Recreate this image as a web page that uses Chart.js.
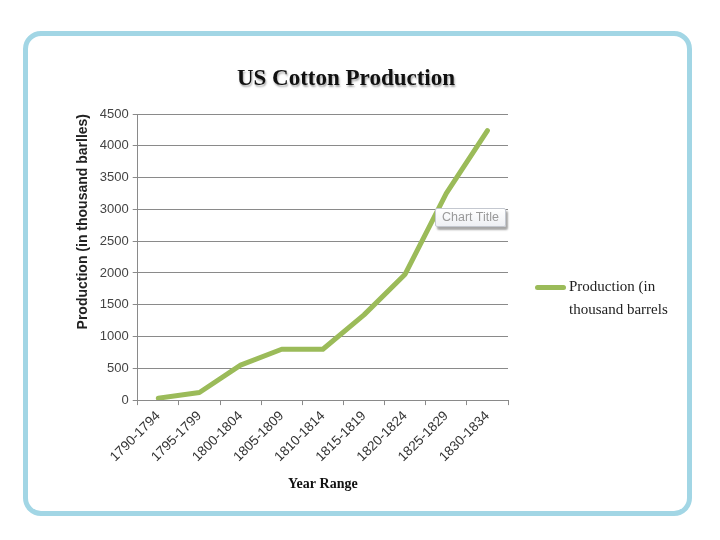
<!DOCTYPE html>
<html lang="en">
<head>
<meta charset="UTF-8">
<title>US Cotton Production</title>
<script src="https://cdn.jsdelivr.net/npm/chart.js@4.4.1/dist/chart.umd.min.js"></script>
<style>
    html, body {
        margin: 0;
        padding: 0;
        background: #fff;
    }
    #wrap {
        position: relative;
        width: 720px;
        height: 540px;
        overflow: hidden;
    }
    #frame {
        position: absolute;
        left: 23px;
        top: 31px;
        width: 659px;
        height: 475px;
        border: 5px solid #a2d6e5;
        border-radius: 18px;
    }
    #chart {
        position: absolute;
        left: 0;
        top: 0;
    }
    #title {
        position: absolute;
        left: 146px;
        width: 400px;
        top: 65px;
        text-align: center;
        font-family: "Liberation Serif", serif;
        font-weight: bold;
        font-size: 23px;
        color: #111;
        text-shadow: 1px 2px 2px rgba(0,0,0,0.35);
    }
    #legend {
        position: absolute;
        left: 535px;
        top: 275px;
        display: flex;
        align-items: flex-start;
    }
    #legend .swatch {
        width: 31px;
        height: 5px;
        border-radius: 3px;
        margin-top: 10px;
        margin-right: 3px;
    }
    #legend .text {
        width: 120px;
        font-family: "Liberation Serif", serif;
        font-size: 15px;
        line-height: 23px;
        color: #222;
    }
    #tag {
        position: absolute;
        left: 435px;
        top: 208px;
        padding: 1px 6px 2px 6px;
        font-family: "Liberation Sans", sans-serif;
        font-size: 12.5px;
        color: #9a9a9a;
        background: linear-gradient(#ffffff, #eef0f4);
        border: 1px solid #c4c8d0;
        border-radius: 2px;
        box-shadow: 2px 3px 2px rgba(0,0,0,0.35);
    }
</style>
</head>
<body>
<div id="wrap">
    <div id="frame"></div>
    <canvas id="chart" width="720" height="540"></canvas>
    <div id="title"></div>
    <div id="legend"><div class="swatch"></div><div class="text"></div></div>
    <div id="tag">Chart Title</div>
</div>

<script>
    const chartTitle = 'US Cotton Production';
    const yearRanges = ['1790-1794', '1795-1799', '1800-1804', '1805-1809', '1810-1814',
                        '1815-1819', '1820-1824', '1825-1829', '1830-1834'];
    const production = [30, 120, 550, 800, 800, 1340, 1980, 3250, 4240];
    const seriesLabel = 'Production (in thousand barrels';
    const xTitle = 'Year Range';
    const yTitle = 'Production (in thousand barlles)';
    const lineColor = '#9bbb59';

    document.getElementById('title').textContent = chartTitle;
    document.querySelector('#legend .swatch').style.background = lineColor;
    document.querySelector('#legend .text').textContent = seriesLabel;

    const gridColor = '#8a8a8a';

    const ctx = document.getElementById('chart').getContext('2d');
    new Chart(ctx, {
        type: 'line',
        data: {
            labels: yearRanges,
            datasets: [{
                label: seriesLabel,
                data: production,
                borderColor: lineColor,
                borderWidth: 5,
                borderCapStyle: 'round',
                borderJoinStyle: 'round',
                pointRadius: 0,
                tension: 0
            }]
        },
        options: {
            responsive: false,
            animation: false,
            layout: {
                padding: { top: 114, left: 71, right: 212, bottom: 43 }
            },
            plugins: {
                legend: { display: false },
                tooltip: { enabled: false }
            },
            scales: {
                x: {
                    offset: true,
                    grid: {
                        offset: true,
                        drawOnChartArea: false,
                        drawTicks: true,
                        tickLength: 5,
                        color: gridColor
                    },
                    border: { color: gridColor },
                    ticks: {
                        autoSkip: false,
                        maxRotation: 45,
                        minRotation: 45,
                        padding: 3,
                        color: '#333',
                        font: { family: 'Liberation Sans', size: 13.5 }
                    },
                    title: {
                        display: true,
                        text: xTitle,
                        color: '#111',
                        padding: { top: 8 },
                        font: { family: 'Liberation Serif', size: 14, weight: 'bold' }
                    }
                },
                y: {
                    min: 0,
                    max: 4500,
                    grid: {
                        color: gridColor,
                        tickLength: 5
                    },
                    border: { color: gridColor },
                    ticks: {
                        stepSize: 500,
                        padding: 4,
                        color: '#444',
                        font: { family: 'Liberation Sans', size: 13 },
                        callback: function(value) {
                            return String(value);
                        }
                    },
                    title: {
                        display: true,
                        text: yTitle,
                        align: 'end',
                        color: '#222',
                        padding: { bottom: 4 },
                        font: { family: 'Liberation Sans', size: 14, weight: 'bold' }
                    }
                }
            }
        }
    });
</script>
</body>
</html>
